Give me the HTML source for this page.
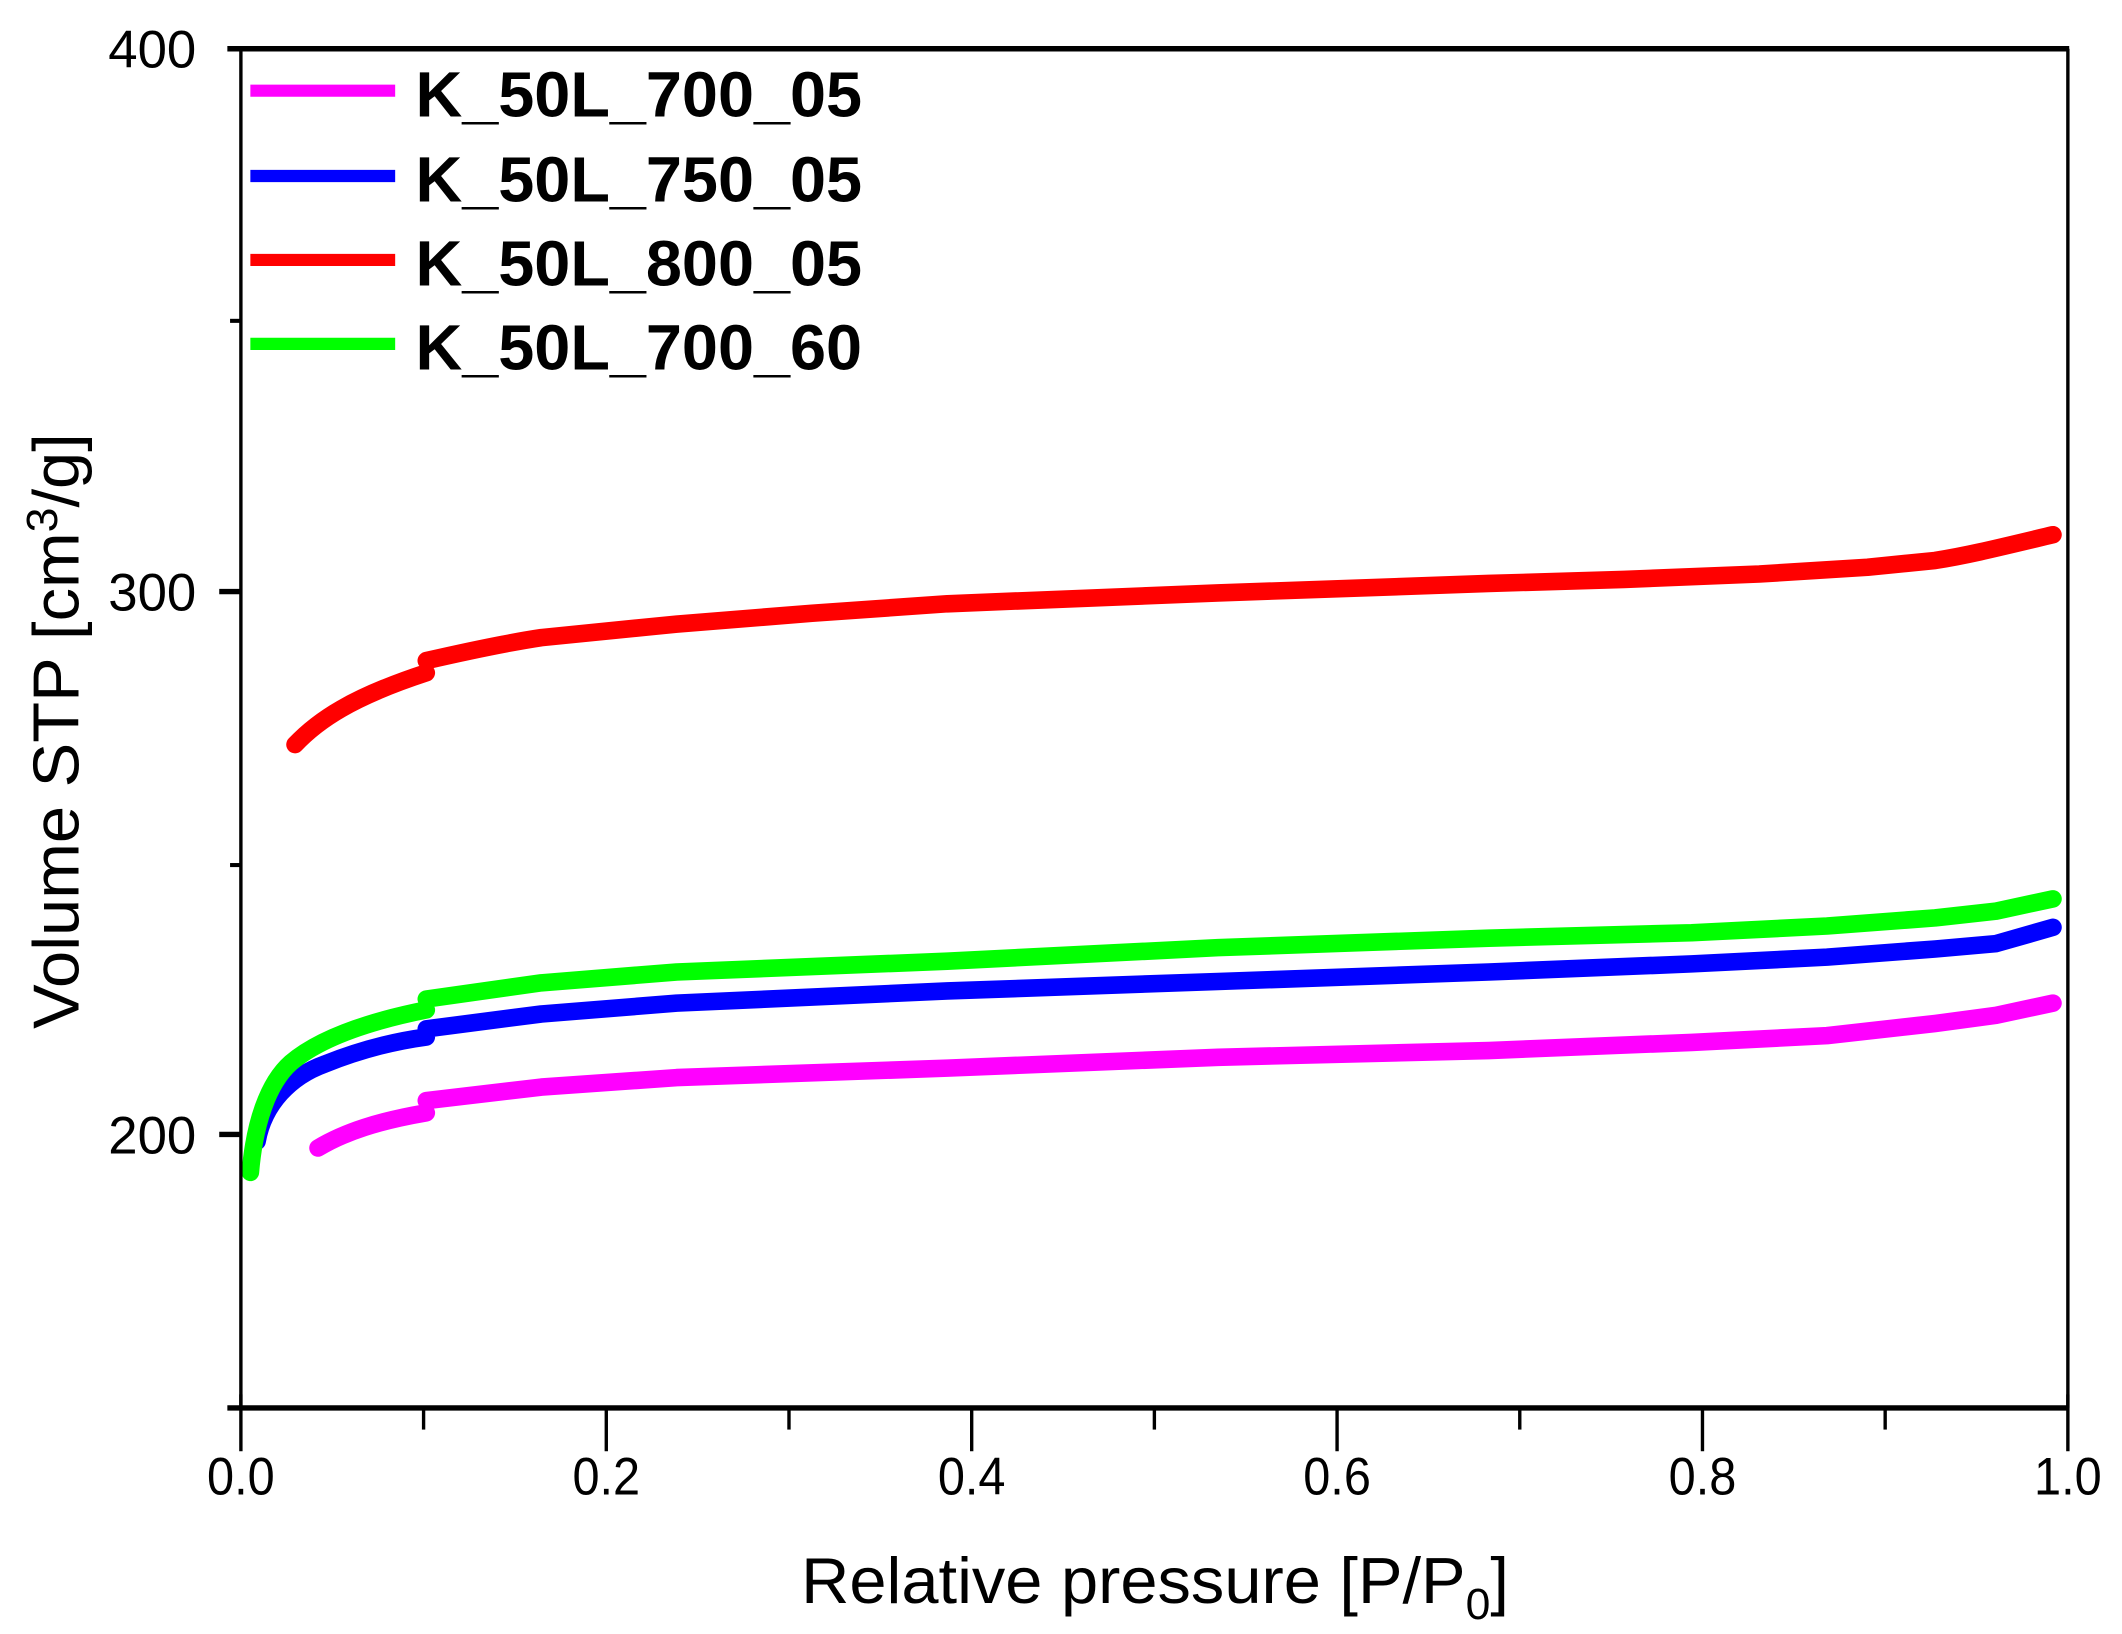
<!DOCTYPE html>
<html><head><meta charset="utf-8"><style>
html,body{margin:0;padding:0;background:#fff;}
svg{display:block;}
text{font-family:"Liberation Sans Narrow","Liberation Sans",Arial,sans-serif;fill:#000;}
</style></head><body>
<svg width="2122" height="1634" viewBox="0 0 1568 1207" preserveAspectRatio="none">
<g fill="none" stroke-linecap="round" stroke-linejoin="round" stroke-width="13">
<path stroke="#ff0000" d="M218,550 C235,532 260,515 315,497 M315,488 C350,480 380,474 400,471 L500,461 L600,453 L700,446 L900,438 L1100,431 L1200,428 L1300,424 L1380,419 L1430,414 C1455,410 1475,405 1517,395"/>
<path stroke="#0000ff" d="M190,843 C195,815 215,795 240,786 C260,778 285,770 315,766 M315,760 L400,749 L500,741 L700,732 L900,725 L1100,718 L1250,712 L1350,707 L1430,701 L1475,697 L1517,685"/>
<path stroke="#00ff00" d="M185,866 C188,830 198,800 215,785 C235,768 270,755 315,746 M315,738 L400,726 L500,718 L700,710 L900,700 L1100,693 L1250,689 L1350,684 L1430,678 L1475,673 L1517,664"/>
<path stroke="#ff00ff" d="M235,848 C255,836 280,828 315,822 M315,813 L400,803 L500,796 L700,789 L900,781 L1100,776 L1250,770 L1350,765 L1430,756 L1475,750 L1517,741"/>
</g>
<g stroke="#000" fill="none">
<line x1="178" y1="36" x2="178" y2="1040" stroke-width="2.5"/>
<line x1="1528" y1="36" x2="1528" y2="1040" stroke-width="2.5"/>
<line x1="168" y1="36" x2="1529" y2="36" stroke-width="4"/>
<line x1="168" y1="1040" x2="1529" y2="1040" stroke-width="4"/>
<line x1="162" y1="437" x2="178" y2="437" stroke-width="4"/>
<line x1="162" y1="838" x2="178" y2="838" stroke-width="4"/>
<line x1="170" y1="237" x2="178" y2="237" stroke-width="3"/>
<line x1="170" y1="639" x2="178" y2="639" stroke-width="3"/>
<g stroke-width="2.5">
<line x1="178" y1="1030" x2="178" y2="1072"/>
<line x1="448" y1="1040" x2="448" y2="1072"/>
<line x1="718" y1="1040" x2="718" y2="1072"/>
<line x1="988" y1="1040" x2="988" y2="1072"/>
<line x1="1258" y1="1040" x2="1258" y2="1072"/>
<line x1="1528" y1="1030" x2="1528" y2="1072"/>
<line x1="313" y1="1040" x2="313" y2="1056"/>
<line x1="583" y1="1040" x2="583" y2="1056"/>
<line x1="853" y1="1040" x2="853" y2="1056"/>
<line x1="1123" y1="1040" x2="1123" y2="1056"/>
<line x1="1393" y1="1040" x2="1393" y2="1056"/>
</g>
</g>
<g font-size="39">
<text x="80" y="50" textLength="65" lengthAdjust="spacingAndGlyphs">400</text>
<text x="80" y="451" textLength="65" lengthAdjust="spacingAndGlyphs">300</text>
<text x="80" y="852" textLength="65" lengthAdjust="spacingAndGlyphs">200</text>
</g>
<g font-size="39">
<text x="153" y="1104" textLength="50" lengthAdjust="spacingAndGlyphs">0.0</text>
<text x="423" y="1104" textLength="50" lengthAdjust="spacingAndGlyphs">0.2</text>
<text x="693" y="1104" textLength="50" lengthAdjust="spacingAndGlyphs">0.4</text>
<text x="963" y="1104" textLength="50" lengthAdjust="spacingAndGlyphs">0.6</text>
<text x="1233" y="1104" textLength="50" lengthAdjust="spacingAndGlyphs">0.8</text>
<text x="1503" y="1104" textLength="50" lengthAdjust="spacingAndGlyphs">1.0</text>
</g>
<text x="592" y="1184" font-size="48" textLength="523" lengthAdjust="spacingAndGlyphs">Relative pressure [P/P<tspan font-size="32" dy="12">0</tspan><tspan dy="-12">]</tspan></text>
<text transform="translate(58,760) rotate(-90)" font-size="48" textLength="440" lengthAdjust="spacingAndGlyphs">Volume STP [cm<tspan font-size="32" dy="-16">3</tspan><tspan dy="16">/g]</tspan></text>
<g stroke-width="9">
<line x1="185" y1="67" x2="292" y2="67" stroke="#ff00ff"/>
<line x1="185" y1="130" x2="292" y2="130" stroke="#0000ff"/>
<line x1="185" y1="192" x2="292" y2="192" stroke="#ff0000"/>
<line x1="185" y1="254" x2="292" y2="254" stroke="#00ff00"/>
</g>
<g font-size="47" font-weight="bold">
<text x="307" y="86" textLength="330" lengthAdjust="spacingAndGlyphs">K_50L_700_05</text>
<text x="307" y="149" textLength="330" lengthAdjust="spacingAndGlyphs">K_50L_750_05</text>
<text x="307" y="211" textLength="330" lengthAdjust="spacingAndGlyphs">K_50L_800_05</text>
<text x="307" y="273" textLength="330" lengthAdjust="spacingAndGlyphs">K_50L_700_60</text>
</g>
</svg>
</body></html>
